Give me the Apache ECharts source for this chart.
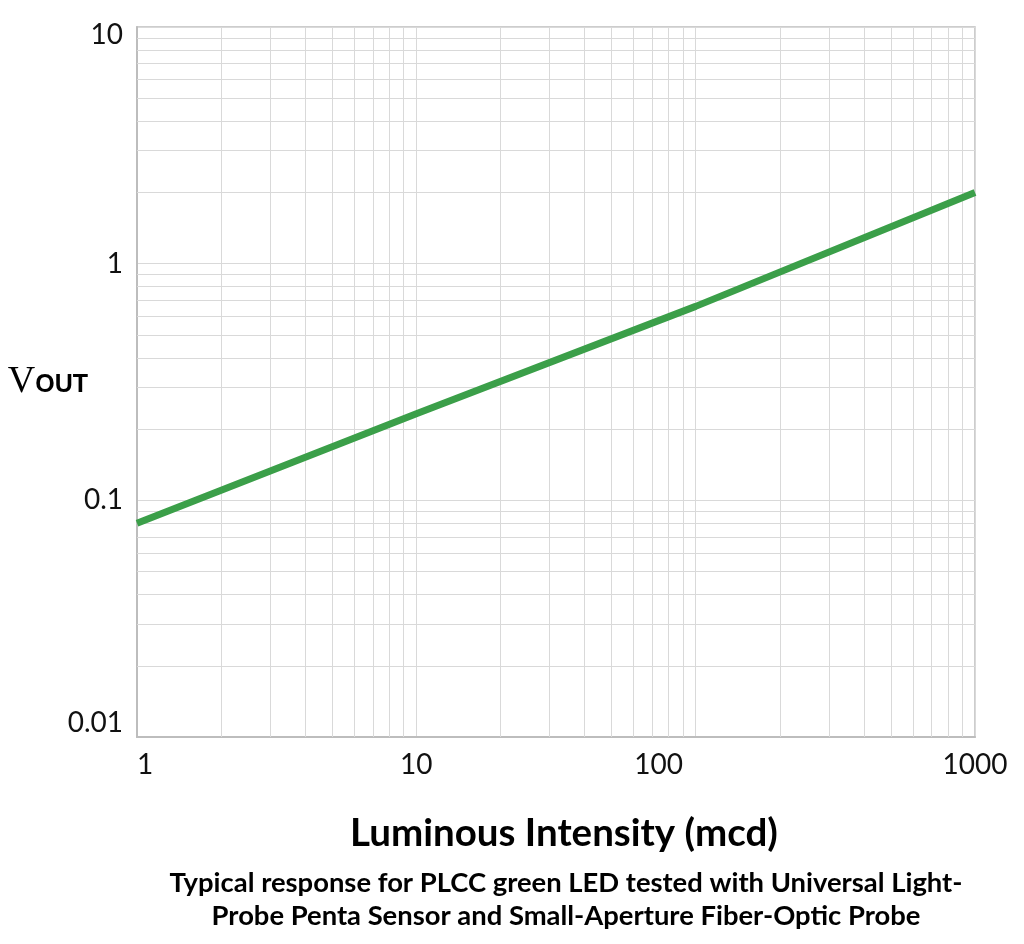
<!DOCTYPE html>
<html>
<head>
<meta charset="utf-8">
<script src="https://cdn.jsdelivr.net/npm/echarts@6/dist/echarts.min.js"></script>
<style>
html,body{margin:0;padding:0;background:#fff;}
#chart{width:1024px;height:944px;}
</style>
</head>
<body>
<div id="chart"></div>
<script>
// Data
const luminousIntensity = [1, 10, 100, 1000];           // mcd
const vout = [0.08, 0.232, 0.66, 2.0];                   // V
const xMinorGrid = [2, 3, 4, 5, 6, 7, 8, 9, 20, 30, 40, 50, 60, 70, 80, 90, 200, 300, 400, 500, 600, 700, 800, 900];
const yMinorGrid = [0.02, 0.03, 0.04, 0.05, 0.06, 0.07, 0.08, 0.09, 0.2, 0.3, 0.4, 0.5, 0.6, 0.7, 0.8, 0.9, 2, 3, 4, 5, 6, 7, 8, 9];
const xAxisTitle = 'Luminous Intensity (mcd)';
const captionLines = ['Typical response for PLCC green LED tested with Universal Light-', 'Probe Penta Sensor and Small-Aperture Fiber-Optic Probe'];

const chart = echarts.init(document.getElementById('chart'), null, {renderer: 'canvas'});
const gridColor = '#d9d9d9';
const labelFont = 'Lato';

const minorLines = xMinorGrid.map(v => ({xAxis: v})).concat(yMinorGrid.map(v => ({yAxis: v})));

chart.setOption({
  animation: false,
  backgroundColor: '#fff',
  grid: {
    left: 137, right: 49, top: 27, bottom: 207,
    containLabel: false, outerBoundsMode: 'none',
    show: true, borderColor: '#bdbdbd', borderWidth: 1.5, backgroundColor: 'transparent'
  },
  xAxis: {
    type: 'log', logBase: 10, min: 1, max: 1000,
    axisLine: {show: true, lineStyle: {color: '#bdbdbd', width: 2}},
    axisTick: {show: false},
    splitLine: {show: true, lineStyle: {color: gridColor, width: 1}},
    axisLabel: {
      margin: 14, color: '#111', fontFamily: labelFont, fontSize: 28,
      alignMinLabel: 'left',
      formatter: v => v === 100 ? '{s|100}' : String(v),
      rich: {s: {fontFamily: labelFont, fontSize: 28, color: '#111', padding: [0, 74, 0, 0]}}
    },
    name: xAxisTitle, nameLocation: 'middle', nameGap: 77, nameMoveOverlap: false,
    nameTextStyle: {fontFamily: 'Lato', fontWeight: 'bold', fontSize: 38.5, color: '#000', padding: [0, 0, 0, 16]}
  },
  yAxis: {
    type: 'log', logBase: 10, min: 0.01, max: 10,
    axisLine: {show: true, lineStyle: {color: '#bdbdbd', width: 2}},
    axisTick: {show: false},
    splitLine: {show: true, lineStyle: {color: gridColor, width: 1}},
    axisLabel: {
      margin: 14, color: '#111', fontFamily: labelFont, fontSize: 28,
      verticalAlignMinLabel: 'bottom',
      formatter: v => v === 10 ? '{t|10}' : String(v),
      rich: {t: {fontFamily: labelFont, fontSize: 28, color: '#111', padding: [16, 0, 0, 0]}}
    },
    name: '{v|V}{o|OUT}', nameLocation: 'middle', nameRotate: 0, nameGap: 49, nameMoveOverlap: false,
    nameTextStyle: {
      align: 'right',
      rich: {
        v: {fontFamily: 'Liberation Serif', fontSize: 38, color: '#000'},
        o: {fontFamily: 'Liberation Sans', fontWeight: 'bold', fontSize: 25, color: '#000', padding: [6, 0, 0, 0]}
      }
    }
  },
  series: [
    {
      type: 'line', data: [], silent: true, z: 1,
      markLine: {
        silent: true, z: 1, symbol: ['none', 'none'], label: {show: false},
        lineStyle: {color: gridColor, width: 1, type: 'solid'},
        emphasis: {disabled: true},
        data: minorLines
      }
    },
    {
      type: 'line', z: 3,
      data: luminousIntensity.map((x, i) => [x, vout[i]]),
      showSymbol: false, symbol: 'none',
      lineStyle: {color: '#3b9f49', width: 7, cap: 'butt'},
      itemStyle: {color: '#3b9f49'}
    }
  ],
  graphic: [
    {
      type: 'text', x: 566, y: 867,
      style: {
        text: captionLines.join('\n'), align: 'center', verticalAlign: 'top',
        fontFamily: 'Lato', fontWeight: 'bold', fontSize: 27.4, lineHeight: 33, fill: '#000'
      }
    }
  ]
});
</script>
</body>
</html>
